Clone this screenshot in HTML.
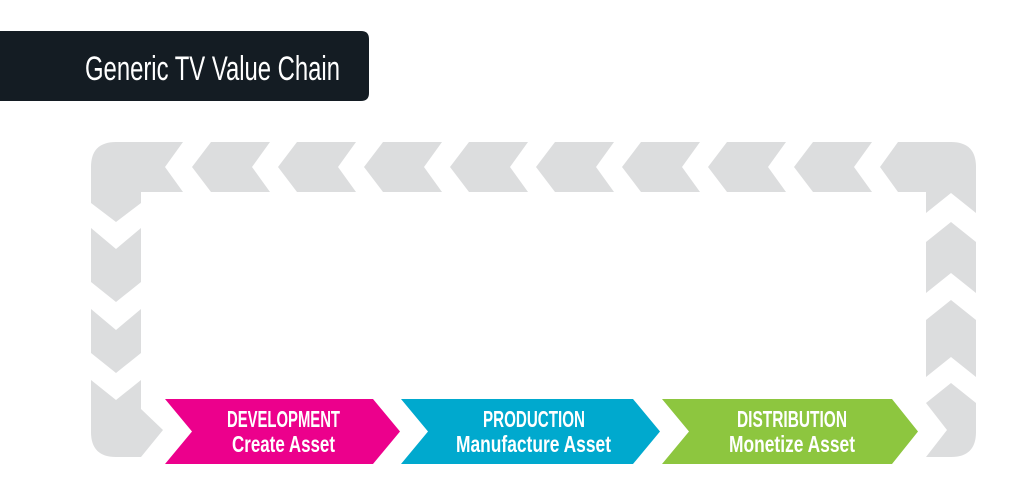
<!DOCTYPE html>
<html><head><meta charset="utf-8"><style>
html,body{margin:0;padding:0;background:#fff;}
svg{display:block;}
text{font-family:"Liberation Sans Narrow","Liberation Sans",sans-serif;}
</style></head><body>
<svg width="1024" height="501" viewBox="0 0 1024 501" xmlns="http://www.w3.org/2000/svg">
<path d="M0 31 H361 Q369 31 369 39 V93 Q369 101 361 101 H0 Z" fill="#141c23"/>
<text x="85" y="80" font-size="34" fill="#fff" textLength="255" lengthAdjust="spacingAndGlyphs">Generic TV Value Chain</text>
<g fill="#dcddde">
<path d="M91 202 V167 Q91 142 116 142 H183 L165 167 L183 192 H141 V203 L116 222 L91 203 Z"/>
<polygon points="192,167 211,142 270,142 252,167 270,192 211,192"/>
<polygon points="278,167 297,142 356,142 338,167 356,192 297,192"/>
<polygon points="364,167 383,142 442,142 424,167 442,192 383,192"/>
<polygon points="450,167 469,142 528,142 510,167 528,192 469,192"/>
<polygon points="536,167 555,142 614,142 596,167 614,192 555,192"/>
<polygon points="622,167 641,142 700,142 682,167 700,192 641,192"/>
<polygon points="708,167 727,142 786,142 768,167 786,192 727,192"/>
<polygon points="794,167 813,142 872,142 854,167 872,192 813,192"/>
<path d="M880 167 L898 142 H951 Q976 142 976 167 V213 L951 193 L926 213 V192 H898 Z"/>
<polygon points="951,222 976,242 976,293 951,273 926,293 926,242"/>
<polygon points="951,300 976,320 976,377 951,357 926,377 926,320"/>
<path d="M951 383 L976 403 V432 Q976 457 951 457 H926 L947 430 L926 403 Z"/>
<polygon points="91,228 116,249 141,228 141,282 116,302 91,282"/>
<polygon points="91,309 116,330 141,309 141,353 116,373 91,353"/>
<path d="M91 380 L116 400 L141 380 V409 L163 430 L141 457 H116 Q91 457 91 432 Z"/>
</g>
<polygon points="165,399 373,399 400,431.5 373,464 165,464 192,431.5" fill="#ec008c"/>
<polygon points="401,399 633,399 660,431.5 633,464 401,464 428,431.5" fill="#00a9ce"/>
<polygon points="662,399 892,399 918,431.5 892,464 662,464 689,431.5" fill="#8dc63f"/>
<g fill="#fff" font-size="23" font-weight="bold" lengthAdjust="spacingAndGlyphs">
<text x="227" y="427" textLength="113" lengthAdjust="spacingAndGlyphs">DEVELOPMENT</text>
<text x="232" y="452" textLength="103" lengthAdjust="spacingAndGlyphs">Create Asset</text>
<text x="483" y="427" textLength="102" lengthAdjust="spacingAndGlyphs">PRODUCTION</text>
<text x="456" y="452" textLength="155" lengthAdjust="spacingAndGlyphs">Manufacture Asset</text>
<text x="737" y="427" textLength="110" lengthAdjust="spacingAndGlyphs">DISTRIBUTION</text>
<text x="729" y="452" textLength="126" lengthAdjust="spacingAndGlyphs">Monetize Asset</text>
</g>
</svg>
</body></html>
